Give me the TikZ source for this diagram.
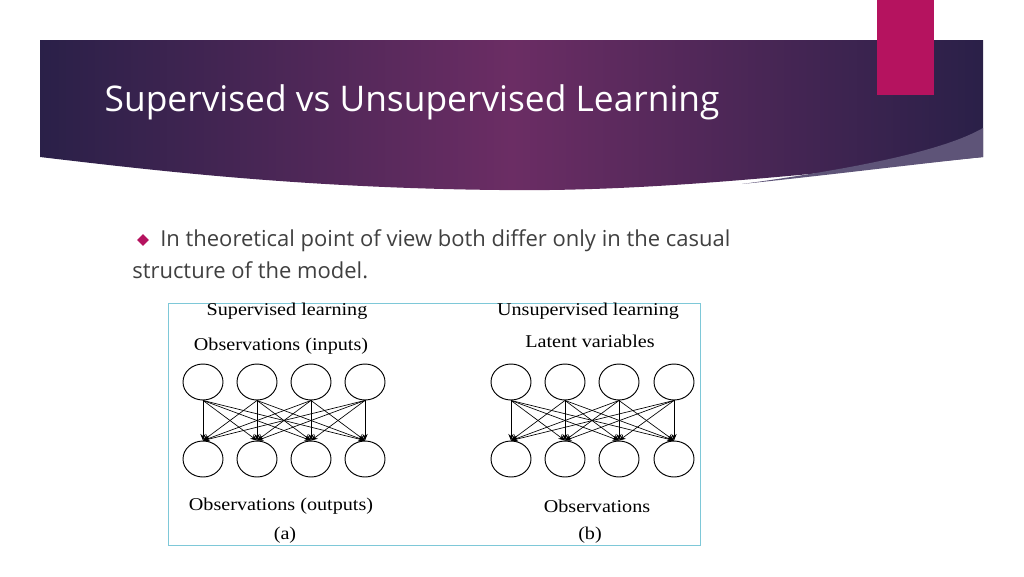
\documentclass[tikz,border=0pt]{standalone}
\usepackage{fontspec}
\setmainfont{Open Sans}
\newfontfamily\figfont{Liberation Serif}
\usetikzlibrary{arrows.meta,shapes.geometric}
\definecolor{dk}{HTML}{2A2048}
\definecolor{mid}{HTML}{6B2D64}
\definecolor{pinkbar}{HTML}{B5135F}
\definecolor{wedge}{HTML}{5E5478}
\definecolor{boxc}{HTML}{7EC8D8}
\tikzset{
  circ/.style={draw,ellipse,minimum width=30pt,minimum height=27pt,line width=0.7pt,inner sep=0},
  arr/.style={-{Stealth[length=5pt,width=4pt]},line width=0.5pt},
  lab/.style={font=\figfont\fontsize{13.5}{15}\selectfont,anchor=center,xscale=1.12},
}
\begin{document}
\begin{tikzpicture}[x=0.75pt,y=-0.75pt]
\useasboundingbox (0,0) rectangle (1024,576);
\fill[white] (0,0) rectangle (1024,576);
% banner
\shade[left color=dk,right color=dk,middle color=mid] (40,40) -- (983,40) -- (983,157) .. controls (800,175) and (650,192) .. (500,190) .. controls (300,188) and (150,170) .. (40,157) -- cycle;
\fill[wedge] (983,128) -- (983,157) .. controls (900,166) and (820,176) .. (742,184) .. controls (860,168) and (945,150) .. (983,128) -- cycle;
\fill[pinkbar] (877,0) rectangle (934,95);
\node[anchor=west,text=white,font=\fontsize{26.5}{30}\selectfont] (title) at (100,102) {Supervised vs Unsupervised Learning};
% bullet
\node[diamond,fill=pinkbar,minimum size=9pt,inner sep=0] (bul) at (143,240) {};
\node[anchor=west,text=black!75,font=\fontsize{16.5}{20}\selectfont,inner sep=0] (txt1) at (160,241) {In theoretical point of view both differ only in the casual};
\node[anchor=west,text=black!75,font=\fontsize{16.5}{20}\selectfont,inner sep=0] (txt2) at (132,270) {structure of the model.};
% figure box
\draw[boxc,line width=0.6pt] (168,303) rectangle (700,545);
\node[lab] (t1) at (287,311) {Supervised learning};
\node[lab] (t2) at (281,346) {Observations (inputs)};
\node[lab] (t3) at (281,506) {Observations (outputs)};
\node[lab] (t4) at (285,535) {(a)};
\node[lab] (u1) at (588,311) {Unsupervised learning};
\node[lab] (u2) at (590,341) {Latent variables};
\node[lab] (u3) at (597,506) {Observations};
\node[lab] (u4) at (590,535) {(b)};
\foreach \i/\x in {1/203,2/257,3/311,4/365}{
  \node[circ] (a\i) at (\x,382) {};
  \node[circ] (b\i) at (\x,459) {};
}
\foreach \i/\x in {1/511,2/565,3/619,4/674}{
  \node[circ] (c\i) at (\x,382) {};
  \node[circ] (d\i) at (\x,459) {};
}
\foreach \i in {1,...,4}{\foreach \j in {1,...,4}{
  \draw[arr] (a\i.south) -- (b\j.north);
  \draw[arr] (c\i.south) -- (d\j.north);
}}
\end{tikzpicture}
\end{document}
